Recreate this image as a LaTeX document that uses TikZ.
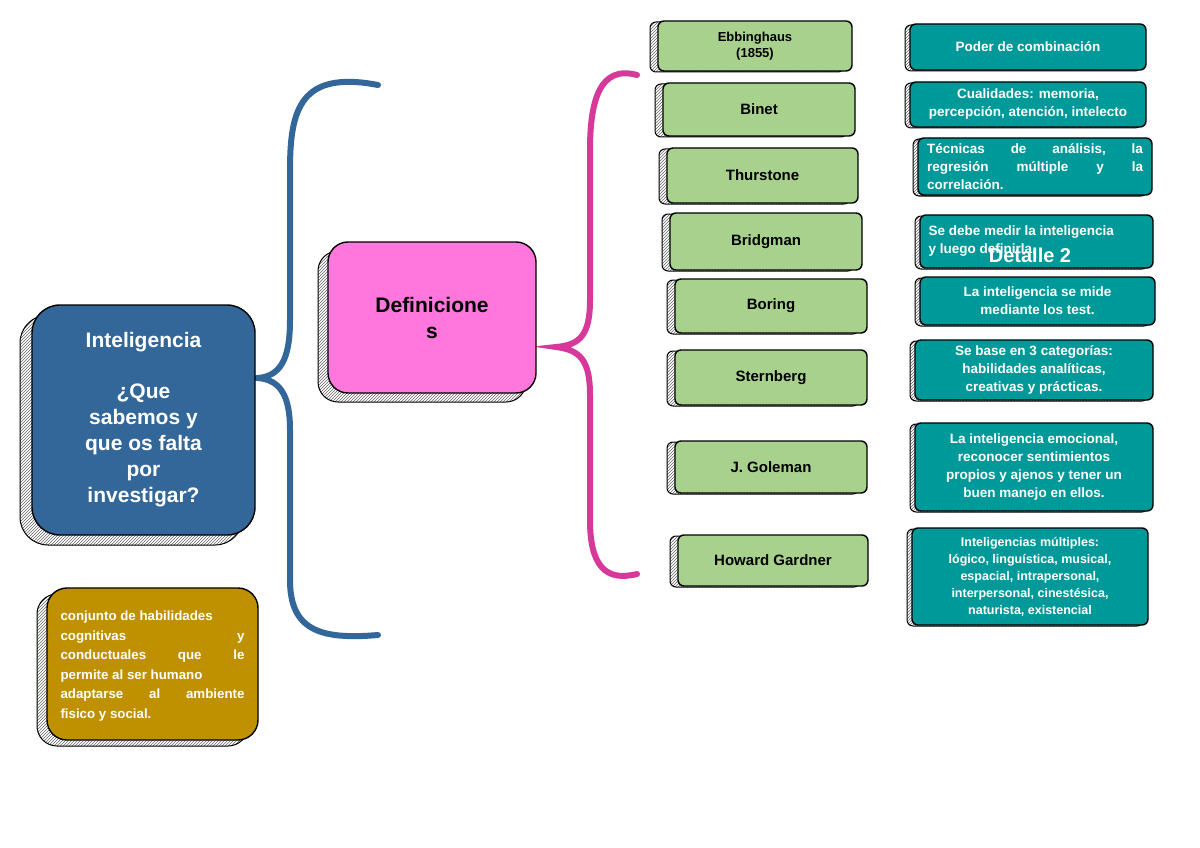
\documentclass[tikz,border=0pt]{standalone}
\usepackage{fontspec}
\setmainfont{Liberation Sans}
\usetikzlibrary{patterns}
\definecolor{cblue}{HTML}{336699}
\definecolor{cgold}{HTML}{BF9000}
\definecolor{cpink}{HTML}{FF77DD}
\definecolor{cgreen}{HTML}{A9D18E}
\definecolor{cteal}{HTML}{009999}
\definecolor{bblue}{HTML}{336699}
\definecolor{bpink}{HTML}{D6399A}
\tikzset{x=1pt,y=-1pt,
 shad/.style={draw=black,line width=1pt,pattern=north east lines,pattern color=black!60},
 boxs/.style={draw=black,line width=1.4pt},
 brace/.style={line width=6pt,line cap=round},
 lbl/.style={font=\bfseries,align=center,inner sep=0pt}}
\def\sdx{8}\def\sdy{1}
% \bx{name}{x1}{y1}{x2}{y2}{radius}{fill}{text}{textstyle}
\newcommand{\bx}[9]{%
 \draw[shad,rounded corners=#6] (#2-\sdx,#3+\sdy) rectangle (#4-\sdx,#5+\sdy);
 \draw[boxs,fill=#7,rounded corners=#6] (#2,#3) rectangle (#4,#5);
 \node[lbl,#9] (#1) at ({(#2+#4)/2},{(#3+#5)/2}) {#8};}
\begin{document}
\begin{tikzpicture}
\useasboundingbox[fill=white] (0,0) rectangle (1200,848);
% braces
\draw[brace,bblue] (378,85) .. controls (300,70) and (290,110) .. (290,170) -- (290,320) .. controls (290,360) and (280,376) .. (258,378) .. controls (280,380) and (290,395) .. (290,430) -- (290,580) .. controls (290,630) and (320,640) .. (378,635);
\draw[brace,bpink] (637,75) .. controls (600,65) and (590,100) .. (590,150) -- (590,300) .. controls (590,335) and (580,345) .. (556,347) .. controls (580,350) and (590,360) .. (590,395) -- (590,520) .. controls (590,565) and (605,582) .. (637,574);
% main boxes
\def\sdx{12}\def\sdy{10}
\bx{intel}{32}{305}{255}{535}{28pt}{cblue}{Inteligencia\\[1.2em]¿Que\\sabemos y\\que os falta\\por\\investigar?}{text=white,font=\bfseries\fontsize{21}{26}\selectfont}
\def\sdx{10}\def\sdy{6}
\bx{conj}{47}{588}{258}{740}{20pt}{cgold}{\parbox{184pt}{\raggedright\fontsize{13.3}{19.5}\selectfont conjunto de habilidades\hfill\strut\\cognitivas\hfill y\\conductuales\hfill que\hfill le\\permite al ser humano\\adaptarse\hfill al\hfill ambiente\\fisico y social.}}{text=white}
\def\sdx{10}\def\sdy{9}
\bx{defs}{328}{242}{536}{393}{20pt}{cpink}{Definicione\\s}{font=\bfseries\fontsize{21}{26}\selectfont}
% green boxes
\def\sdx{8}\def\sdy{1}
\tikzset{gl/.style={font=\bfseries\fontsize{15}{18}\selectfont}}
\bx{g1}{658}{21}{852}{71}{6pt}{cgreen}{Ebbinghaus\\(1855)}{font=\bfseries\fontsize{13}{16}\selectfont}
\bx{g2}{663}{83}{855}{136}{6pt}{cgreen}{Binet}{gl}
\bx{g3}{667}{148}{858}{203}{6pt}{cgreen}{Thurstone}{gl}
\bx{g4}{670}{213}{862}{270}{6pt}{cgreen}{Bridgman}{gl}
\bx{g5}{675}{279}{867}{333}{6pt}{cgreen}{Boring}{gl}
\bx{g6}{675}{350}{867}{405}{6pt}{cgreen}{Sternberg}{gl}
\bx{g7}{675}{441}{867}{493}{6pt}{cgreen}{J. Goleman}{gl}
\bx{g8}{678}{535}{868}{586}{6pt}{cgreen}{Howard Gardner}{gl}
% teal boxes
\def\sdx{5}\def\sdy{1}
\tikzset{tl/.style={text=white,font=\bfseries\fontsize{13.5}{18}\selectfont}}
\bx{t1}{910}{24}{1146}{70}{6pt}{cteal}{Poder de combinación}{tl}
\bx{t2}{910}{82}{1146}{127}{6pt}{cteal}{Cualidades: memoria,\\percepción, atención, intelecto}{tl}
\bx{t3}{918}{138}{1152}{195}{6pt}{cteal}{\parbox{216pt}{\raggedright Técnicas\hfill de\hfill análisis,\hfill la\\regresión\hfill múltiple\hfill y\hfill la\\correlación.}}{tl}
\bx{t4}{920}{215}{1153}{268}{6pt}{cteal}{\parbox{216pt}{\raggedright Se debe medir la inteligencia\\y luego definirla.}}{tl}
\bx{t5}{920}{277}{1155}{325}{6pt}{cteal}{La inteligencia se mide\\mediante los test.}{tl}
\bx{t6}{915}{340}{1153}{400}{6pt}{cteal}{Se base en 3 categorías:\\habilidades analíticas,\\creativas y prácticas.}{tl}
\bx{t7}{915}{423}{1153}{511}{6pt}{cteal}{La inteligencia emocional,\\reconocer sentimientos\\propios y ajenos y tener un\\buen manejo en ellos.}{tl}
\bx{t8}{912}{528}{1148}{625}{6pt}{cteal}{Inteligencias múltiples:\\lógico, linguística, musical,\\espacial, intrapersonal,\\interpersonal, cinestésica,\\naturista, existencial}{text=white,font=\bfseries\fontsize{12.5}{17}\selectfont}
\node[text=white,font=\bfseries\fontsize{20}{24}\selectfont] (det) at (1030,255) {Detalle 2};
\end{tikzpicture}
\end{document}
